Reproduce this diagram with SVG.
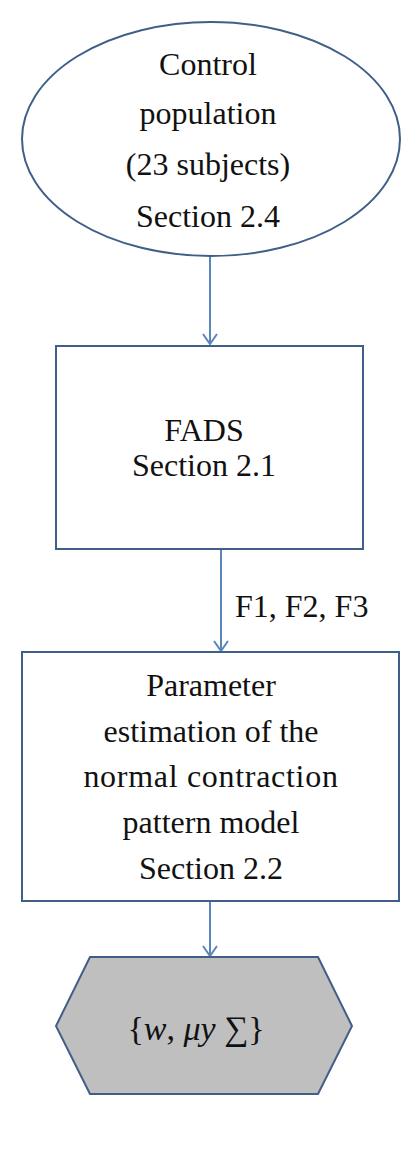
<svg xmlns="http://www.w3.org/2000/svg" width="420" height="1153" viewBox="0 0 420 1153">
<style>
.shape{fill:#ffffff;stroke:#3f5f88;stroke-width:2}
.hex{fill:#bfbfbf;stroke:#3f5f88;stroke-width:2}
.conn{stroke:#5a86bb;stroke-width:2;fill:none}
.t{font-family:"Liberation Serif","Times New Roman",serif;font-size:32px;fill:#111111;text-anchor:middle}
.l{font-family:"Liberation Serif","Times New Roman",serif;font-size:32px;fill:#111111}
.m{font-family:"Liberation Serif","Times New Roman",serif;font-size:34px;fill:#111111;text-anchor:middle}
.i{font-style:italic}
</style>
<rect width="420" height="1153" fill="#ffffff"/>
<g id="connectors">
<path class="conn" d="M210,255 V344"/>
<path class="conn" d="M221,549 V651"/>
<path class="conn" d="M210,901 V956"/>
<path d="M203,334 L210,344 L217,334" class="conn"/>
<path d="M214,641 L221,651 L228,641" class="conn"/>
<path d="M203,946 L210,956 L217,946" class="conn"/>
<text class="l" x="235" y="617">F1, F2, F3</text>
</g>
<g id="control">
<ellipse class="shape" cx="211" cy="139" rx="189" ry="117"/>
<text class="t" x="208" y="75">Control</text>
<text class="t" x="208" y="124">population</text>
<text class="t" x="208" y="175">(23 subjects)</text>
<text class="t" x="208" y="227">Section 2.4</text>
</g>
<g id="fads">
<rect class="shape" x="56" y="346" width="307" height="203"/>
<text class="t" x="204" y="441">FADS</text>
<text class="t" x="204" y="476">Section 2.1</text>
</g>
<g id="param">
<rect class="shape" x="22" y="652" width="377" height="249"/>
<text class="t" x="211" y="696">Parameter</text>
<text class="t" x="211" y="742">estimation of the</text>
<text class="t" x="211" y="787" letter-spacing="0.7">normal contraction</text>
<text class="t" x="211" y="833">pattern model</text>
<text class="t" x="211" y="879">Section 2.2</text>
</g>
<g id="output">
<polygon class="hex" points="90,957 318,957 352,1026 318,1094 90,1094 56,1026"/>
<text class="m" x="196" y="1040">{<tspan class="i">w</tspan>, <tspan class="i">μy</tspan> ∑}</text>
</g>
</svg>
